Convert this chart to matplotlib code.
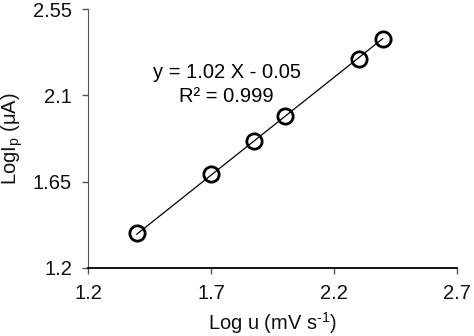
import matplotlib
matplotlib.use('Agg')
import matplotlib.pyplot as plt
import numpy as np

plt.rcParams['font.family'] = ['Liberation Sans', 'DejaVu Sans']
plt.rcParams['mathtext.fontset'] = 'custom'
plt.rcParams['mathtext.rm'] = 'Liberation Sans'
plt.rcParams['mathtext.it'] = 'Liberation Sans:italic'

# log of scan rate vs log of peak current
log_rate = [1.398, 1.699, 1.875, 2.000, 2.301, 2.398]
log_ip = [1.381, 1.690, 1.864, 1.993, 2.290, 2.394]
slope = 1.02
intercept = -0.05
r_squared = 0.999

x_ticks = [1.2, 1.7, 2.2, 2.7]
y_ticks = [1.2, 1.65, 2.1, 2.55]

fig = plt.figure(figsize=(4.74, 3.36), dpi=100)
ax = fig.add_axes([0.1857, 0.2024, 0.7785, 0.7706])

fit_x = np.array([log_rate[0], log_rate[-1]])
ax.plot(fit_x, slope * fit_x + intercept, color='black', linewidth=0.9, zorder=2)
ax.plot(log_rate, log_ip, linestyle='none', marker='o', markersize=11,
        markerfacecolor='none', markeredgecolor='black', markeredgewidth=2.0,
        zorder=3)

ax.text(1.764, 2.217, f'y = {slope:.2f} X - {abs(intercept):.2f}',
        ha='center', va='center', fontsize=14.5)
ax.text(1.764, 2.092, f'R² = {r_squared}', ha='center', va='center',
        fontsize=14.5)

ax.set_xlim(1.2, 2.7)
ax.set_ylim(1.2, 2.55)
ax.set_xticks(x_ticks)
ax.set_yticks(y_ticks)
ax.set_xticklabels([f'{t:g}' for t in x_ticks])
ax.set_yticklabels([f'{t:g}' for t in y_ticks])
ax.tick_params(direction='out', length=4.5, width=1, labelsize=14.5)
ax.tick_params(axis='x', colors='#555555', labelcolor='#111111', pad=7)
ax.tick_params(axis='y', colors='#555555', labelcolor='#111111', pad=7)

ax.spines['top'].set_visible(False)
ax.spines['right'].set_visible(False)
ax.spines['left'].set_color('#555555')
ax.spines['bottom'].set_color('black')
ax.spines['bottom'].set_linewidth(1.3)

ax.set_xlabel('Log u (mV s$^{\\text{-}1}$)', fontsize=14.5, labelpad=5,
              color='#111111')
ax.set_ylabel('LogI$_\\mathrm{p}$ (μA)', fontsize=14.5, labelpad=6,
              color='#111111')

fig.savefig('out.png', dpi=100)
